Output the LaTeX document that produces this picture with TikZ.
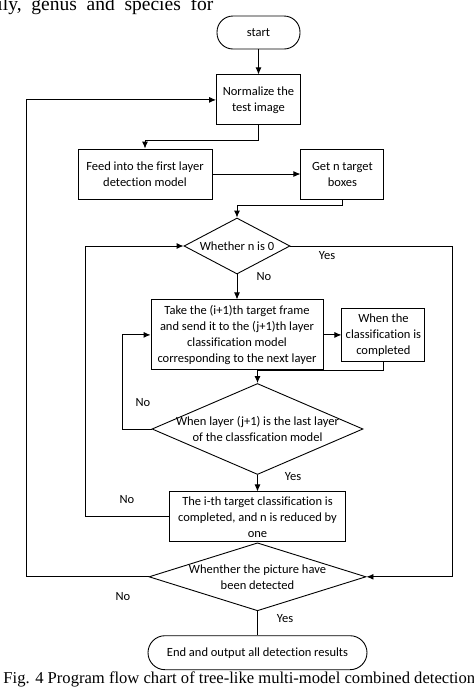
\documentclass[tikz,border=0pt]{standalone}
\usepackage{fontspec}
\setmainfont{Carlito}[Ligatures=CommonOff]
\newfontfamily\serif{Liberation Serif}
\usetikzlibrary{positioning,shapes.geometric,arrows.meta}

\begin{document}
\begin{tikzpicture}[
  x=1pt, y=-1pt,
  line width=0.9pt,
  font=\fontsize{12.5}{16}\selectfont,
  box/.style={draw, align=center, inner sep=2pt},
  term/.style={draw, rounded corners=16pt, align=center},
  decide/.style={draw, diamond, align=center, inner sep=-3pt},
  tag/.style={inner sep=0pt},
  >={Latex[length=7pt,width=6pt]}
]
\useasboundingbox (0,0) rectangle (474,694);

% Page text around the chart
\node[tag, anchor=base west, font=\serif\fontsize{19.5}{19.5}\selectfont] (page) at (-3,10) {ily,\ \ genus\ \ and\ \ species\ \ for};
\node[tag, anchor=base west, font=\serif\fontsize{16.6}{16.6}\selectfont] (caption) at (3,683) {Fig. 4 Program flow chart of tree-like multi-model combined detection};

% Detection part
\node[term, minimum width=83pt, minimum height=33pt] (start) at (258.5,32.5) {start};
\node[box, minimum width=84pt, minimum height=50pt, below=25pt of start] (norm) {Normalize the\\test image};
\node[box, minimum width=134pt, minimum height=50pt] (feed) at (145,174) {Feed into the first layer\\detection model};
\node[box, minimum width=83pt, minimum height=50pt, right=88pt of feed] (boxes) {Get n target\\boxes};

% Classification loop
\node[decide, aspect=1.9, minimum width=106pt, minimum height=56pt] (zero) at (237,246) {Whether n is 0};
\node[box, minimum width=172pt, minimum height=70pt, below=25pt of zero] (take) {Take the (i+1)th target frame\\and send it to the (j+1)th layer\\classification model\\corresponding to the next layer};
\node[box, minimum width=83pt, minimum height=53pt, right=18pt of take] (when) {When the\\classification is\\completed};
\node[decide, aspect=2.32, minimum width=211pt, minimum height=91pt] (last) at (257.5,429) {When layer (j+1) is the last layer\\of the classfication model};
\node[box, minimum width=176pt, minimum height=50pt, below=16.5pt of last] (done) {The i-th target classification is\\completed, and n is reduced by\\one};

% End of the picture
\node[decide, aspect=3.19, minimum width=217pt, minimum height=68pt, below=0pt of done] (pic) {Whenther the picture have\\been detected};
\node[term, rounded corners=17pt, minimum width=219pt, minimum height=34pt, below=24pt of pic] (stop) {End and output all detection results};

% Connections
\draw[->] (start) -- (norm);
\draw[->] (norm.south) -- ++(0,15) -| (feed.north);
\draw[->] (feed) -- (boxes);
\draw[->] (boxes.south) -- ++(0,6) -| (zero.north);
\draw[->] (zero) -- (take);
\draw[->] (take) -- (when);
\draw[->] (when.south) -- ++(0,9) -| (last.north);
\draw[->] (last) -- (done);
\draw (pic) -- (stop);

% Loops back
\draw[->] (last.west) -- ++(-29,0) |- (take.west);
\draw[->] (done.west) -- ++(-84,0) |- (zero.west);
\draw[->] (zero.east) -- ++(162,0) |- (pic.east);
\draw[->] (pic.west) -- ++(-122.5,0) |- (norm.west);

% Labels
\node[tag] (yes1) at (327,256) {Yes};
\node[tag] (no1) at (264,277) {No};
\node[tag] (no2) at (143,403) {No};
\node[tag] (yes2) at (293,477) {Yes};
\node[tag] (no3) at (127,500) {No};
\node[tag] (no4) at (123,597) {No};
\node[tag] (yes3) at (285,619) {Yes};

\end{tikzpicture}
\end{document}
